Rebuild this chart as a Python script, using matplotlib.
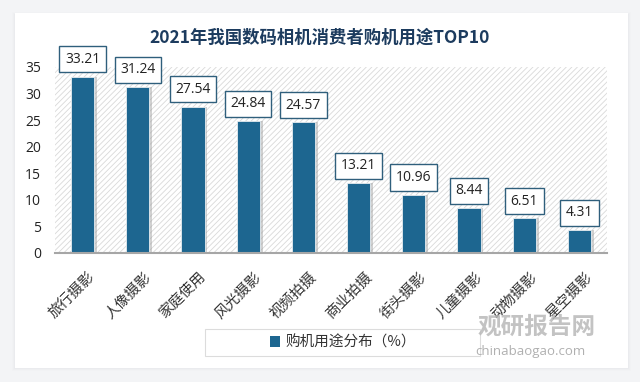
import matplotlib
matplotlib.use("Agg")
import matplotlib.pyplot as plt
from matplotlib.patches import Rectangle
import matplotlib.transforms as mtransforms
import numpy as np

plt.rcParams['font.family'] = ['Noto Sans CJK SC', 'DejaVu Sans']
plt.rcParams['hatch.linewidth'] = 0.6

title = "2021年我国数码相机消费者购机用途TOP10"
categories = ["旅行摄影", "人像摄影", "家庭使用", "风光摄影", "视频拍摄",
              "商业拍摄", "街头摄影", "儿童摄影", "动物摄影", "星空摄影"]
values = [33.21, 31.24, 27.54, 24.84, 24.57, 13.21, 10.96, 8.44, 6.51, 4.31]
series_name = "购机用途分布（%）"
yticks = [0, 5, 10, 15, 20, 25, 30, 35]

W, H = 640, 382
fig = plt.figure(figsize=(W / 100, H / 100), dpi=100)
fig.patch.set_facecolor("#f3f4f6")

def fx(px):
    return px / W

def fy(py):
    return 1 - py / H

# card shadow and card
for i, a in enumerate([0.06, 0.045, 0.03]):
    d = i + 1
    fig.patches.append(Rectangle((fx(15 - d), fy(368 + d)), fx(613 + 2 * d), (353 + 2 * d) / H,
                                 transform=fig.transFigure, facecolor="#b8bcc4", alpha=a,
                                 edgecolor="none", zorder=-3))
fig.patches.append(Rectangle((fx(15), fy(368)), fx(613), 355 / H, transform=fig.transFigure,
                             facecolor="white", edgecolor="none", zorder=-2))

ax = fig.add_axes([fx(55), fy(253), fx(552), (253 - 67) / H])
ax.set_facecolor("none")
x = np.arange(len(categories))
ax.set_xlim(-0.5, len(categories) - 0.5)
ax.set_ylim(0, 35)

# hatched background
ax.add_patch(Rectangle((0, 0), 1, 1, transform=ax.transAxes, facecolor="white",
                       edgecolor="#d9d9d9", hatch="//////", linewidth=0, zorder=0))

# bar shadows
ax.bar(x + 0.05, values, width=0.42, color="#9a9a9a", alpha=0.45, zorder=1, linewidth=0)
ax.bar(x, values, width=0.42, color="#1d6690", edgecolor="#e8eef2", linewidth=0.6, zorder=2)

for xi, v in zip(x, values):
    ax.annotate(f"{v:.2f}", (xi, v), xytext=(0, 7), textcoords="offset points",
                ha="center", va="bottom", fontsize=10, color="#222222",
                family=["Open Sans", "DejaVu Sans"],
                bbox=dict(boxstyle="square,pad=0.4", facecolor="white",
                          edgecolor="#2f5f7c", linewidth=1.0), zorder=4)

for s in ["top", "right", "left"]:
    ax.spines[s].set_visible(False)
ax.spines["bottom"].set_color("#a6a6a6")
ax.spines["bottom"].set_linewidth(1.5)
ax.spines["bottom"].set_zorder(5)

ax.set_yticks(yticks)
ax.set_yticklabels([str(t) for t in yticks], fontsize=10, color="#222222",
                   family=["Open Sans", "DejaVu Sans"])
ax.tick_params(axis="y", length=0, pad=10)
ax.set_xticks(x)
ax.set_xticklabels(categories, rotation=45, ha="right", rotation_mode="anchor",
                   fontsize=10.5, color="#333333")
ax.tick_params(axis="x", length=0, pad=12)
offset = mtransforms.ScaledTranslation(6 / 100, 0, fig.dpi_scale_trans)
for lbl in ax.get_xticklabels():
    lbl.set_transform(lbl.get_transform() + offset)

fig.text(0.5, fy(38), title, ha="center", va="center", fontsize=12.5,
         fontweight="bold", color="#1c3b5e")

# legend box
fig.patches.append(Rectangle((fx(205), fy(356)), fx(275), 27 / H, transform=fig.transFigure,
                             facecolor="white", edgecolor="#dcdcdc", linewidth=0.8, zorder=3))
leg = fig.legend([Rectangle((0, 0), 1, 1, facecolor="#1d6690")], [series_name],
                 loc="center", bbox_to_anchor=(fx(343), fy(342.5)), frameon=False,
                 fontsize=10.5, handlelength=0.7, handleheight=0.7, handletextpad=0.4,
                 labelcolor="#333333")
leg.set_zorder(4)

# watermark
fig.text(fx(478), fy(327), "观研报告网", fontsize=17, fontweight="bold", color="#b9b9b9",
         alpha=0.85, va="center", ha="left", zorder=6)
fig.text(fx(475), fy(351), "chinabaogao.com", fontsize=9.5, color="#b0b0b0",
         family=["Open Sans", "DejaVu Sans"], va="center", ha="left", zorder=6)

fig.savefig("out.png", dpi=100, facecolor=fig.get_facecolor())
